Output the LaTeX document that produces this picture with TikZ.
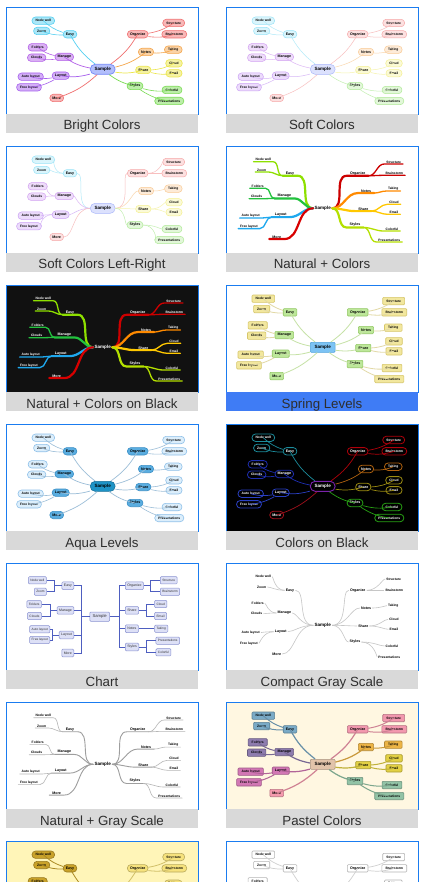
\documentclass[tikz,border=0pt]{standalone}
\usepackage{fontspec}
\setmainfont{Liberation Sans}
\usetikzlibrary{positioning}

%% ── Colours ──────────────────────────────────────────────────────
\definecolor{framec}{HTML}{1A7CF0}
\definecolor{capc}{HTML}{D9D9D9}
\definecolor{capsel}{HTML}{3F7CF5}
\definecolor{captext}{HTML}{2E2E2E}
% branch bases (S E M L R O N H Y)
\definecolor{brightS}{HTML}{7388F7}\definecolor{brightE}{HTML}{55D0F2}
\definecolor{brightM}{HTML}{B462E8}\definecolor{brightL}{HTML}{A760EE}
\definecolor{brightR}{HTML}{F07070}\definecolor{brightO}{HTML}{F07070}
\definecolor{brightN}{HTML}{F5A64C}\definecolor{brightH}{HTML}{ECE64A}
\definecolor{brightY}{HTML}{79DB52}
\definecolor{natS}{HTML}{000000}\definecolor{natE}{HTML}{8EE000}
\definecolor{natM}{HTML}{22C23E}\definecolor{natL}{HTML}{1EA8EE}
\definecolor{natR}{HTML}{D80000}\definecolor{natO}{HTML}{CC0000}
\definecolor{natN}{HTML}{FF8A00}\definecolor{natH}{HTML}{FFC800}
\definecolor{natY}{HTML}{B4E000}
\definecolor{blkS}{HTML}{7A22AA}\definecolor{blkE}{HTML}{1C8C9C}
\definecolor{blkM}{HTML}{1E2EB0}\definecolor{blkL}{HTML}{2A40C4}
\definecolor{blkR}{HTML}{A0101C}\definecolor{blkO}{HTML}{B0000A}
\definecolor{blkN}{HTML}{B0620F}\definecolor{blkH}{HTML}{9C8C12}
\definecolor{blkY}{HTML}{28A214}
\definecolor{pasS}{HTML}{E2C4AA}\definecolor{pasE}{HTML}{7AAAC6}
\definecolor{pasM}{HTML}{8E7CAE}\definecolor{pasL}{HTML}{D277B4}
\definecolor{pasR}{HTML}{F59AAE}\definecolor{pasO}{HTML}{F298AE}
\definecolor{pasN}{HTML}{ECB446}\definecolor{pasH}{HTML}{E2D044}
\definecolor{pasY}{HTML}{92C3A6}
\definecolor{gldS}{HTML}{E8C850}\definecolor{gldE}{HTML}{C9A22A}
\definecolor{gldM}{HTML}{C9A22A}\definecolor{gldL}{HTML}{C9A22A}
\definecolor{gldR}{HTML}{C9A22A}\definecolor{gldO}{HTML}{F6E27C}
\definecolor{gldN}{HTML}{F6E27C}\definecolor{gldH}{HTML}{F6E27C}
\definecolor{gldY}{HTML}{F6E27C}
% level palettes and plain colours
\definecolor{springroot}{HTML}{7CC3F4}\definecolor{springrootd}{HTML}{4FA3DD}
\definecolor{springmid}{HTML}{BDE79A}\definecolor{springmidd}{HTML}{93C865}
\definecolor{springleaf}{HTML}{F2E79E}\definecolor{springleafd}{HTML}{D6C66A}
\definecolor{springedge}{HTML}{C6E2A6}\definecolor{springleafedge}{HTML}{E2D9A6}
\definecolor{aquaroot}{HTML}{1E93C6}\definecolor{aquarootd}{HTML}{17709A}
\definecolor{aquamid}{HTML}{5AADE0}\definecolor{aquamidd}{HTML}{3A8FC6}
\definecolor{aqualeaf}{HTML}{DCEEFB}\definecolor{aqualeafd}{HTML}{8EC0E9}
\definecolor{aquaedge}{HTML}{9CBED8}
\definecolor{chartfill}{HTML}{DDE0F6}\definecolor{chartdraw}{HTML}{8A92D0}
\definecolor{chartline}{HTML}{4E5EC0}\definecolor{charttext}{HTML}{333333}
\definecolor{compactline}{HTML}{C6C6C6}\definecolor{natgray}{HTML}{9E9E9E}
\definecolor{natbg}{HTML}{111111}\definecolor{pastelbg}{HTML}{FFF7E1}
\definecolor{goldbg}{HTML}{FFF5B8}\definecolor{grayrect}{HTML}{B4B4B4}
\definecolor{grayedge}{HTML}{D0D0D0}

\newcommand\setbranches[1]{%
  \colorlet{cS}{#1S}\colorlet{cE}{#1E}\colorlet{cM}{#1M}\colorlet{cL}{#1L}%
  \colorlet{cR}{#1R}\colorlet{cO}{#1O}\colorlet{cN}{#1N}\colorlet{cH}{#1H}%
  \colorlet{cY}{#1Y}}

%% ── Map data (cell coordinates, px, y down) ──────────────────────
\def\midsL{easy/64/27.3/Easy/E, manage/58.3/50/Manage/M,
  layout/54.7/68.7/Layout/L, more/50.7/91/More/R}
\def\midsR{organize/131.7/27.3/Organize/O, notes/140/45/Notes/N,
  share/137.3/63/Share/H, styles/129/79/Styles/Y}
\def\leavesL{nodewell/37.3/13.7/Node well/easy/E, zoom/35.7/24/Zoom/easy/E,
  folders/31.7/40.3/Folders/manage/M, clouds/30.7/50.7/Clouds/manage/M,
  autolayout/24.7/69.7/Auto layout/layout/L, freelayout/23/80.3/Free layout/layout/L}
\def\leavesR{structure/167.7/16/Structure/organize/O, brainstorm/168.3/27.3/Brainstorm/organize/O,
  taking/167.3/42.7/Taking/notes/N, cloud/168/56.3/Cloud/share/H, email/168/66.3/Email/share/H,
  colorful/166/83/Colorful/styles/Y, presentations/163.3/94/Presentations/styles/Y}
% chart layout: left side by east edge, right side by west edge
\def\chartmidsL{easy/68/22.7/Easy, manage/68/47.3/Manage, layout/68/72/Layout, more/68/90/More}
\def\chartmidsR{organize/119/22.7/Organize, share/119/47.3/Share, notes/119/65.7/Notes, styles/119/84/Styles}
\def\chartleavesL{nodewell/40.7/17.3/Node well/easy, zoom/40.7/28.7/Zoom/easy,
  folders/35.7/41.3/Folders/manage, clouds/35.7/53/Clouds/manage,
  autolayout/44/66.3/Auto layout/layout, freelayout/44/77/Free layout/layout}
\def\chartleavesR{structure/154/17.3/Structure/organize, brainstorm/154/28.7/Brainstorm/organize,
  cloud/148.3/41/Cloud/share, email/148.3/53/Email/share, taking/148.3/65.7/Taking/notes,
  presentations/149.7/77.7/Presentations/styles, colorful/149.7/89.3/Colorful/styles}

%% ── Map bodies ───────────────────────────────────────────────────
\newcommand\bubblemap{%
  \node[rootnode] (sample) at (96.7,62.3) {Sample};
  \foreach \nm/\x/\y/\txt/\br in \midsL {
    \node[midnode=\br] (\nm) at (\x,\y) {\txt};
    \draw[midedge=\br] (sample) to[ltie] (\nm);
  }
  \foreach \nm/\x/\y/\txt/\br in \midsR {
    \node[midnode=\br] (\nm) at (\x,\y) {\txt};
    \draw[midedge=\br] (sample) to[rtie] (\nm);
  }
  \foreach \nm/\x/\y/\txt/\pa/\br in \leavesL {
    \node[leafnode=\br] (\nm) at (\x,\y) {\txt};
    \draw[leafedge=\br] (\pa) to[ltie] (\nm);
  }
  \foreach \nm/\x/\y/\txt/\pa/\br in \leavesR {
    \node[leafnode=\br] (\nm) at (\x,\y) {\txt};
    \draw[leafedge=\br] (\pa) to[rtie] (\nm);
  }%
}
\newcommand\naturalmap{%
  \node[rootnode] (sample) at (96.7,62.3) {Sample};
  \foreach \nm/\x/\y/\txt/\br in \midsL {
    \node[midnode=\br] (\nm) at (\x,\y) {\txt};
    \draw[midedge=\br] (sample.west) to[out=180,in=0] (\nm.south east) -- (\nm.south west);
  }
  \foreach \nm/\x/\y/\txt/\br in \midsR {
    \node[midnode=\br] (\nm) at (\x,\y) {\txt};
    \draw[midedge=\br] (sample.east) to[out=0,in=180] (\nm.south west) -- (\nm.south east);
  }
  \foreach \nm/\x/\y/\txt/\pa/\br in \leavesL {
    \node[leafnode=\br] (\nm) at (\x,\y) {\txt};
    \draw[leafedge=\br] (\pa.south west) to[out=180,in=0] (\nm.south east) -- (\nm.south west);
  }
  \foreach \nm/\x/\y/\txt/\pa/\br in \leavesR {
    \node[leafnode=\br] (\nm) at (\x,\y) {\txt};
    \draw[leafedge=\br] (\pa.south east) to[out=0,in=180] (\nm.south west) -- (\nm.south east);
  }%
}
\newcommand\chartmap{%
  \node[rootnode] (sample) at (93.7,53.7) {Sample};
  \foreach \nm/\x/\y/\txt in \chartmidsL {
    \node[midnode, anchor=east] (\nm) at (\x,\y) {\txt};
    \draw[midedge] (\nm.east) -| ([xshift=-8.3]sample.west) -- (sample.west);
  }
  \foreach \nm/\x/\y/\txt in \chartmidsR {
    \node[midnode, anchor=west] (\nm) at (\x,\y) {\txt};
    \draw[midedge] (\nm.west) -| ([xshift=9.3]sample.east) -- (sample.east);
  }
  \foreach \nm/\x/\y/\txt/\pa in \chartleavesL {
    \node[leafnode, anchor=east] (\nm) at (\x,\y) {\txt};
    \draw[leafedge] (\nm.east) -| ([xshift=-7]\pa.west) -- (\pa.west);
  }
  \foreach \nm/\x/\y/\txt/\pa in \chartleavesR {
    \node[leafnode, anchor=west] (\nm) at (\x,\y) {\txt};
    \draw[leafedge] (\nm.west) -| ([xshift=7]\pa.east) -- (\pa.east);
  }%
}

\tikzset{
  rootfont/.style={font=\fontsize{4.6}{5}\selectfont\bfseries},
  midfont/.style={font=\fontsize{3.6}{4}\selectfont\bfseries},
  leaffont/.style={font=\fontsize{3.3}{4}\selectfont\bfseries},
  rootbox/.style={rootfont, minimum height=10, inner xsep=4.2pt, inner ysep=0pt},
  midbox/.style={midfont, minimum height=7.4, inner xsep=2.6pt, inner ysep=0pt},
  leafbox/.style={leaffont, minimum height=7.4, inner xsep=3.6pt, inner ysep=0pt},
  rootpill/.style={rootbox, rounded corners=4.8},
  midpill/.style={midbox, rounded corners=3.5},
  leafpill/.style={leafbox, rounded corners=3.5},
  cellframe/.style={draw=framec, line width=0.9pt},
  captxt/.style={font=\fontsize{13.3}{15}\selectfont, text=captext, anchor=base, inner sep=0pt},
  ltie/.style={bend left=12}, rtie/.style={bend right=12},
  lrtie/.style={ltie/.style={out=180,in=0}, rtie/.style={out=0,in=180}},
  natnodes/.style={
    rootnode/.style={rootfont, inner xsep=1.2pt, inner ysep=0.6pt},
    midnode/.style={midfont, inner xsep=3pt, inner ysep=0.6pt},
    leafnode/.style={leaffont, inner xsep=1.8pt, inner ysep=0.6pt}}
}

\begin{document}
\begin{tikzpicture}[x=1pt, y=-1pt]
\useasboundingbox (0,0) rectangle (428,882);
\clip (0,0) rectangle (428,882);
\fill[white] (0,0) rectangle (428,882);

%% ── Row 1 ────────────────────────────────────────────────────────
\begin{scope}[shift={(6,7)}, name prefix=a-,
  rootnode/.style={rootpill, fill=cS!55, draw=cS, line width=0.7pt},
  midnode/.style={midpill, fill=c#1!50, draw=c#1, line width=0.6pt},
  leafnode/.style={leafpill, fill=c#1!50, draw=c#1, line width=0.6pt},
  midedge/.style={draw=c#1, line width=0.7pt},
  leafedge/.style={draw=c#1, line width=0.6pt}]
  \setbranches{bright}
  \bubblemap
  \draw[cellframe] (0,0) rectangle (192,107);
\end{scope}

\begin{scope}[shift={(226,7)}, name prefix=b-,
  rootnode/.style={rootpill, fill=cS!25, draw=cS!60, line width=0.5pt},
  midnode/.style={midpill, fill=c#1!22, draw=c#1!60, line width=0.5pt},
  leafnode/.style={leafpill, fill=c#1!22, draw=c#1!60, line width=0.5pt},
  midedge/.style={draw=c#1!45, line width=0.5pt},
  leafedge/.style={draw=c#1!45, line width=0.5pt}]
  \setbranches{bright}
  \bubblemap
  \draw[cellframe] (0,0) rectangle (192,107);
\end{scope}

%% ── Row 2 ────────────────────────────────────────────────────────
\begin{scope}[shift={(6,146)}, name prefix=c-, lrtie,
  rootnode/.style={rootpill, fill=cS!25, draw=cS!60, line width=0.5pt},
  midnode/.style={midpill, fill=c#1!22, draw=c#1!60, line width=0.5pt},
  leafnode/.style={leafpill, fill=c#1!22, draw=c#1!60, line width=0.5pt},
  midedge/.style={draw=c#1!45, line width=0.5pt},
  leafedge/.style={draw=c#1!45, line width=0.5pt}]
  \setbranches{bright}
  \bubblemap
  \draw[cellframe] (0,0) rectangle (192,107);
\end{scope}

\begin{scope}[shift={(226,146)}, name prefix=d-, natnodes,
  midedge/.style={draw=c#1, line width=2.2pt, line cap=round},
  leafedge/.style={draw=c#1, line width=1.3pt, line cap=round}]
  \setbranches{nat}
  \naturalmap
  \draw[cellframe] (0,0) rectangle (192,107);
\end{scope}

%% ── Row 3 ────────────────────────────────────────────────────────
\begin{scope}[shift={(6,285)}, name prefix=e-, natnodes, every node/.append style={text=white},
  midedge/.style={draw=c#1, line width=2.2pt, line cap=round},
  leafedge/.style={draw=c#1, line width=1.3pt, line cap=round}]
  \setbranches{nat}
  \fill[natbg] (0,0) rectangle (192,107);
  \naturalmap
  \draw[cellframe] (0,0) rectangle (192,107);
\end{scope}

\begin{scope}[shift={(226,285)}, name prefix=f-,
  rootnode/.style={rootbox, rounded corners=1, fill=springroot, draw=springrootd, line width=0.6pt},
  midnode/.style={midbox, rounded corners=1, fill=springmid, draw=springmidd, line width=0.6pt},
  leafnode/.style={leafbox, rounded corners=1, fill=springleaf, draw=springleafd, line width=0.6pt},
  midedge/.style={draw=springedge, line width=0.8pt},
  leafedge/.style={draw=springleafedge, line width=0.8pt}]
  \bubblemap
  \draw[cellframe] (0,0) rectangle (192,107);
\end{scope}

%% ── Row 4 ────────────────────────────────────────────────────────
\begin{scope}[shift={(6,424)}, name prefix=g-,
  rootnode/.style={rootpill, fill=aquaroot, draw=aquarootd, line width=0.6pt},
  midnode/.style={midpill, fill=aquamid, draw=aquamidd, line width=0.6pt},
  leafnode/.style={leafpill, fill=aqualeaf, draw=aqualeafd, line width=0.6pt},
  midedge/.style={draw=aquaedge, line width=0.7pt},
  leafedge/.style={draw=aquaedge, line width=0.6pt}]
  \bubblemap
  \draw[cellframe] (0,0) rectangle (192,107);
\end{scope}

\begin{scope}[shift={(226,424)}, name prefix=h-,
  rootnode/.style={rootpill, fill=black, draw=cS, line width=0.9pt, text=white},
  midnode/.style={midpill, fill=black, draw=c#1, line width=0.8pt, text=white},
  leafnode/.style={leafpill, fill=black, draw=c#1, line width=0.8pt, text=white},
  midedge/.style={draw=c#1, line width=0.7pt},
  leafedge/.style={draw=c#1, line width=0.7pt}]
  \setbranches{blk}
  \fill[black] (0,0) rectangle (192,107);
  \bubblemap
  \draw[cellframe] (0,0) rectangle (192,107);
\end{scope}

%% ── Row 5 ────────────────────────────────────────────────────────
\begin{scope}[shift={(6,563)}, name prefix=i-,
  chartbox/.style={rounded corners=1, fill=chartfill, draw=chartdraw, line width=0.5pt,
                   text=charttext, inner ysep=0pt},
  rootnode/.style={chartbox, font=\fontsize{4.2}{5}\selectfont, minimum height=9.3, inner xsep=2.8pt},
  midnode/.style={chartbox, font=\fontsize{3.5}{4}\selectfont, minimum height=7.6, inner xsep=2pt},
  leafnode/.style={chartbox, font=\fontsize{3.2}{4}\selectfont, minimum height=7.2, inner xsep=2pt},
  midedge/.style={draw=chartline, line width=0.8pt},
  leafedge/.style={draw=chartline, line width=0.6pt}]
  \chartmap
  \draw[cellframe] (0,0) rectangle (192,107);
\end{scope}

\begin{scope}[shift={(226,563)}, name prefix=j-, lrtie,
  rootnode/.style={rootfont, inner xsep=1pt, inner ysep=0.5pt},
  midnode/.style={midfont, inner xsep=1pt, inner ysep=0.5pt},
  leafnode/.style={leaffont, inner xsep=1pt, inner ysep=0.5pt},
  midedge/.style={draw=compactline, line width=0.6pt},
  leafedge/.style={draw=compactline, line width=0.6pt}]
  \bubblemap
  \draw[cellframe] (0,0) rectangle (192,107);
\end{scope}

%% ── Row 6 ────────────────────────────────────────────────────────
\begin{scope}[shift={(6,702)}, name prefix=k-, natnodes,
  midedge/.style={draw=natgray, line width=0.9pt, line cap=round},
  leafedge/.style={draw=natgray!75, line width=0.6pt, line cap=round}]
  \naturalmap
  \draw[cellframe] (0,0) rectangle (192,107);
\end{scope}

\begin{scope}[shift={(226,702)}, name prefix=l-,
  rootnode/.style={rootbox, rounded corners=1, fill=cS, draw=cS!75!black, line width=0.6pt},
  midnode/.style={midbox, rounded corners=1, fill=c#1, draw=c#1!75!black, line width=0.6pt},
  leafnode/.style={leafbox, rounded corners=1, fill=c#1, draw=c#1!75!black, line width=0.6pt},
  midedge/.style={draw=c#1!85!black, line width=1.2pt},
  leafedge/.style={draw=c#1!85!black, line width=1pt}]
  \setbranches{pas}
  \fill[pastelbg] (0,0) rectangle (192,107);
  \bubblemap
  \draw[cellframe] (0,0) rectangle (192,107);
\end{scope}

%% ── Row 7 (cut by the page edge) ─────────────────────────────────
\begin{scope}[shift={(6,841)}, name prefix=m-,
  rootnode/.style={rootpill, fill=cS, draw=cS!75!black, line width=0.6pt},
  midnode/.style={midpill, fill=c#1, draw=c#1!75!black, line width=0.6pt},
  leafnode/.style={leafpill, fill=c#1, draw=c#1!75!black, line width=0.6pt},
  midedge/.style={draw=c#1!85!black, line width=0.8pt},
  leafedge/.style={draw=c#1!85!black, line width=0.8pt}]
  \setbranches{gld}
  \fill[goldbg] (0,0) rectangle (192,107);
  \bubblemap
  \draw[cellframe] (0,0) rectangle (192,107);
\end{scope}

\begin{scope}[shift={(226,841)}, name prefix=n-,
  rootnode/.style={rootbox, rounded corners=1, fill=white, draw=grayrect, line width=0.6pt},
  midnode/.style={midbox, rounded corners=1, fill=white, draw=grayrect, line width=0.6pt},
  leafnode/.style={leafbox, rounded corners=1, fill=white, draw=grayrect, line width=0.6pt},
  midedge/.style={draw=grayedge, line width=0.7pt},
  leafedge/.style={draw=grayedge, line width=0.7pt}]
  \bubblemap
  \draw[cellframe] (0,0) rectangle (192,107);
\end{scope}

%% ── Captions ─────────────────────────────────────────────────────
\foreach \cx/\cy/\captx/\barc/\id in {6/7/Bright Colors/capc/a, 226/7/Soft Colors/capc/b,
    6/146/Soft Colors Left-Right/capc/c, 226/146/Natural + Colors/capc/d,
    6/285/Natural + Colors on Black/capc/e, 226/285/Spring Levels/capsel/f,
    6/424/Aqua Levels/capc/g, 226/424/Colors on Black/capc/h,
    6/563/Chart/capc/i, 226/563/Compact Gray Scale/capc/j,
    6/702/Natural + Gray Scale/capc/k, 226/702/Pastel Colors/capc/l} {
  \fill[\barc] (\cx,\cy+107.45) rectangle (\cx+192,\cy+126);
  \node[captxt] (cap-\id) at (\cx+96,\cy+123) {\captx};
}
\end{tikzpicture}
\end{document}
